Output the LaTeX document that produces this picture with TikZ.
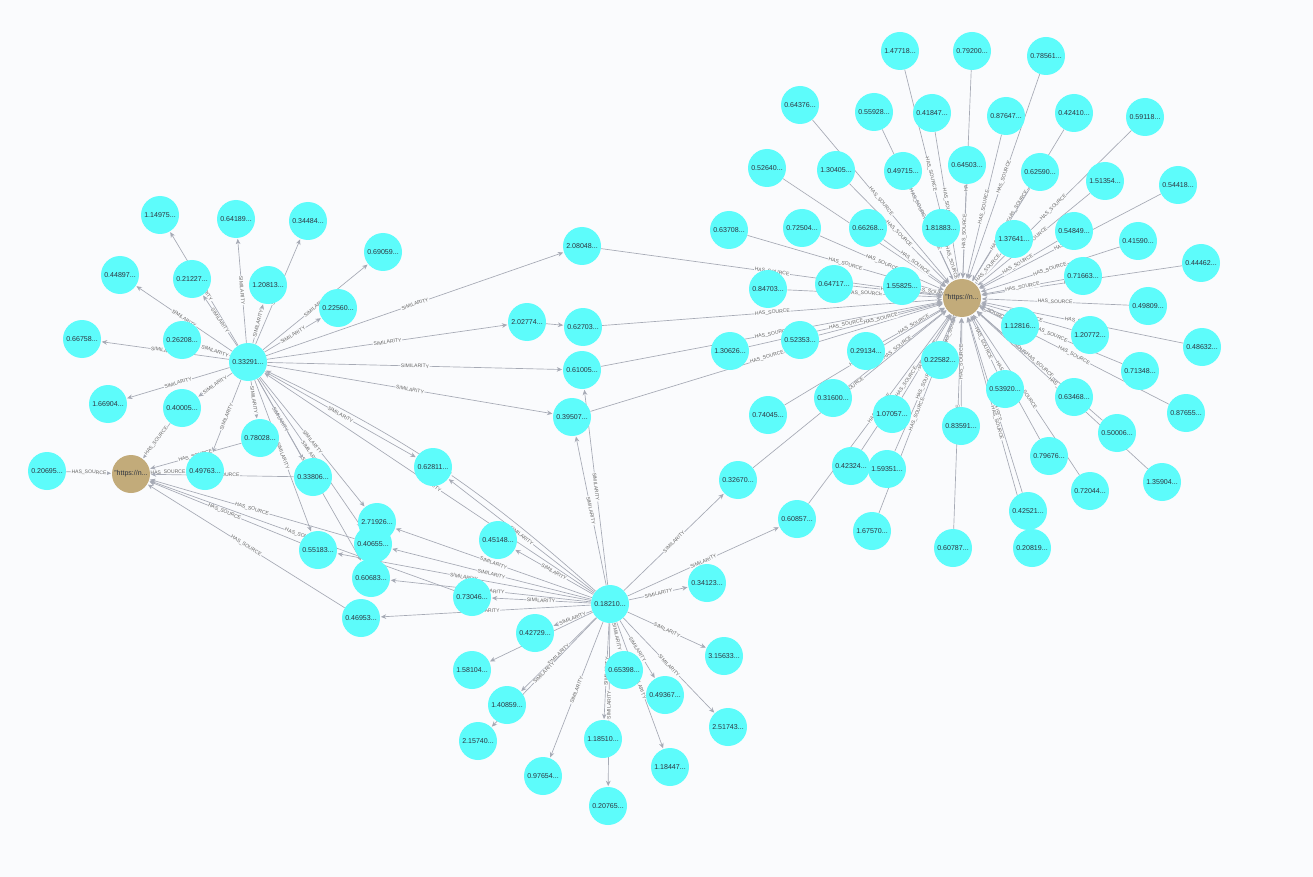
\documentclass[tikz,border=0pt]{standalone}
\usepackage{fontspec}
\setmainfont{Liberation Sans}
\usetikzlibrary{arrows.meta}
\pgfdeclarelayer{bgl}
\pgfsetlayers{bgl,main}
\definecolor{bgc}{HTML}{FAFBFD}
\definecolor{cy}{HTML}{5DFCFB}
\definecolor{tan}{HTML}{C2AB7A}
\definecolor{eg}{HTML}{A6AAB5}
\definecolor{tx}{HTML}{2E3440}
\tikzset{
 cn/.style={circle,fill=cy,minimum size=28.5pt,inner sep=0pt,font=\fontsize{5.3}{6}\selectfont,text=tx},
 tn/.style={circle,fill=tan,minimum size=28.5pt,inner sep=0pt,font=\fontsize{5.3}{6}\selectfont,text=tx},
 ed/.style={draw=eg,line width=0.5pt,-{Stealth[length=4pt,width=3.5pt]},shorten >=0.5pt},
 el/.style={font=\fontsize{3.8}{4}\selectfont,text=black!60,sloped,fill=bgc,inner sep=0.4pt,midway},
}
\newcommand{\cnd}[4]{\node[cn] (#1) at (#2,#3) {#4};}
\begin{document}
\begin{tikzpicture}[x=0.75pt,y=-0.75pt]
\begin{pgfonlayer}{bgl}
\fill[bgc] (0,0) rectangle (1313,877);
\end{pgfonlayer}
\useasboundingbox (0,0) rectangle (1313,877);
% hubs
\cnd{A}{248}{362}{0.33291...}
\cnd{B}{610}{604}{0.18210...}
\node[tn] (L) at (131,474) {"https://n...};
\node[tn] (R) at (962,298) {"https://n...};
% left
\cnd{a1}{160}{215}{1.14975...}
\cnd{a2}{236}{219}{0.64189...}
\cnd{a3}{308}{221}{0.34484...}
\cnd{a4}{383}{252}{0.69059...}
\cnd{a5}{120}{275}{0.44897...}
\cnd{a6}{192}{279}{0.21227...}
\cnd{a7}{268}{285}{1.20813...}
\cnd{a8}{338}{308}{0.22560...}
\cnd{a9}{82}{339}{0.66758...}
\cnd{a10}{182}{340}{0.26208...}
\cnd{a11}{108}{404}{1.66904...}
\cnd{a12}{182}{408}{0.40005...}
\cnd{a13}{205}{471}{0.49763...}
\cnd{a14}{260}{438}{0.78028...}
\cnd{a15}{313}{477}{0.33806...}
\cnd{a16}{433}{467}{0.62811...}
\cnd{a17}{377}{522}{2.71926...}
\cnd{a18}{373}{544}{0.40655...}
\cnd{a19}{318}{550}{0.55183...}
\cnd{a20}{371}{578}{0.60683...}
\cnd{a21}{472}{597}{0.73046...}
\cnd{a22}{361}{618}{0.46953...}
\cnd{a23}{498}{540}{0.45148...}
\cnd{a24}{47}{471}{0.20695...}
% middle
\cnd{m1}{582}{246}{2.08048...}
\cnd{m2}{527}{322}{2.02774...}
\cnd{m3}{583}{327}{0.62703...}
\cnd{m4}{582}{370}{0.61005...}
\cnd{m5}{572}{417}{0.39507...}
\cnd{m6}{768}{289}{0.84703...}
\cnd{m7}{730}{351}{1.30626...}
\cnd{m8}{800}{340}{0.52353...}
\cnd{m9}{834}{284}{0.64717...}
% bottom
\cnd{b1}{707}{583}{0.34123...}
\cnd{b2}{738}{480}{0.32670...}
\cnd{b3}{797}{519}{0.60857...}
\cnd{b4}{724}{656}{3.15633...}
\cnd{b5}{728}{727}{2.51743...}
\cnd{b6}{665}{695}{0.49367...}
\cnd{b7}{670}{767}{1.18447...}
\cnd{b8}{624}{670}{0.65398...}
\cnd{b9}{603}{739}{1.18510...}
\cnd{b10}{608}{806}{0.20765...}
\cnd{b11}{543}{776}{0.97654...}
\cnd{b12}{507}{705}{1.40859...}
\cnd{b13}{478}{741}{2.15740...}
\cnd{b14}{535}{633}{0.42729...}
\cnd{b15}{472}{670}{1.58104...}
% right
\cnd{r1}{900}{51}{1.47718...}
\cnd{r2}{972}{51}{0.79200...}
\cnd{r3}{1046}{56}{0.78561...}
\cnd{r4}{800}{105}{0.64376...}
\cnd{r5}{874}{112}{0.55928...}
\cnd{r6}{932}{113}{0.41847...}
\cnd{r7}{1006}{116}{0.87647...}
\cnd{r8}{1074}{113}{0.42410...}
\cnd{r9}{1145}{117}{0.59118...}
\cnd{r10}{767}{168}{0.52640...}
\cnd{r11}{836}{170}{1.30405...}
\cnd{r12}{903}{171}{0.49715...}
\cnd{r13}{967}{165}{0.64503...}
\cnd{r14}{1040}{172}{0.62590...}
\cnd{r15}{1105}{181}{1.51354...}
\cnd{r16}{1178}{185}{0.54418...}
\cnd{r17}{729}{230}{0.63708...}
\cnd{r18}{802}{228}{0.72504...}
\cnd{r19}{868}{228}{0.66268...}
\cnd{r20}{941}{228}{1.81883...}
\cnd{r21}{1014}{239}{1.37641...}
\cnd{r22}{1074}{231}{0.54849...}
\cnd{r23}{1138}{241}{0.41590...}
\cnd{r24}{1201}{263}{0.44462...}
\cnd{r25}{1083}{276}{0.71663...}
\cnd{r26}{902}{286}{1.55825...}
\cnd{r27}{1148}{306}{0.49809...}
\cnd{r28}{1020}{326}{1.12816...}
\cnd{r29}{1090}{335}{1.20772...}
\cnd{r30}{1202}{347}{0.48632...}
\cnd{r31}{866}{351}{0.29134...}
\cnd{r32}{940}{360}{0.22582...}
\cnd{r33}{1140}{371}{0.71348...}
\cnd{r34}{1005}{389}{0.53920...}
\cnd{r35}{833}{398}{0.31600...}
\cnd{r36}{768}{415}{0.74045...}
\cnd{r37}{892}{414}{1.07057...}
\cnd{r38}{1074}{397}{0.63468...}
\cnd{r39}{1186}{413}{0.87655...}
\cnd{r40}{1117}{433}{0.50006...}
\cnd{r41}{961}{426}{0.83591...}
\cnd{r42}{1049}{456}{0.79676...}
\cnd{r43}{1162}{482}{1.35904...}
\cnd{r44}{1090}{491}{0.72044...}
\cnd{r45}{1028}{511}{0.42521...}
\cnd{r46}{887}{469}{1.59351...}
\cnd{r47}{851}{466}{0.42324...}
\cnd{r48}{872}{531}{1.67570...}
\cnd{r49}{953}{548}{0.60787...}
\cnd{r50}{1032}{548}{0.20819...}
% edges
\begin{pgfonlayer}{bgl}
\foreach \n in {r1,r2,r3,r4,r5,r6,r7,r8,r9,r10,r11,r12,r13,r14,r15,r16,r17,r18,r19,r20,r21,r22,r23,r24,r25,r26,r27,r28,r29,r30,r31,r32,r33,r34,r35,r36,r37,r38,r39,r40,r41,r42,r43,r44,r45,r46,r47,r48,r49,r50,m1,m3,m4,m5,m6,m7,m8,m9,b2,b3}
  \draw[ed] (\n) -- node[el]{HAS\_SOURCE} (R);
\foreach \n in {a1,a2,a3,a4,a5,a6,a7,a8,a9,a10,a11,a12,a13,a14,a15,a16,a17,a18,a19,a20,m1,m2,m4,m5}
  \draw[ed] (A) -- node[el]{SIMILARITY} (\n);
\foreach \n in {a24,a12,a13,a14,a15,a19,a22,a21,a18}
  \draw[ed] (\n) -- node[el]{HAS\_SOURCE} (L);
\foreach \n in {b1,b2,b3,b4,b5,b6,b7,b8,b9,b10,b11,b12,b13,b14,b15,a16,a17,a18,a19,a20,a21,a22,a23,m4,m5}
  \draw[ed] (B) -- node[el]{SIMILARITY} (\n);
\draw[ed] (B) to[bend right=8] node[el]{SIMILARITY} (A);
\draw[ed] (B) -- node[el]{SIMILARITY} (A);
\draw[ed] (m2) -- (m3);
\end{pgfonlayer}
\end{tikzpicture}
\end{document}
